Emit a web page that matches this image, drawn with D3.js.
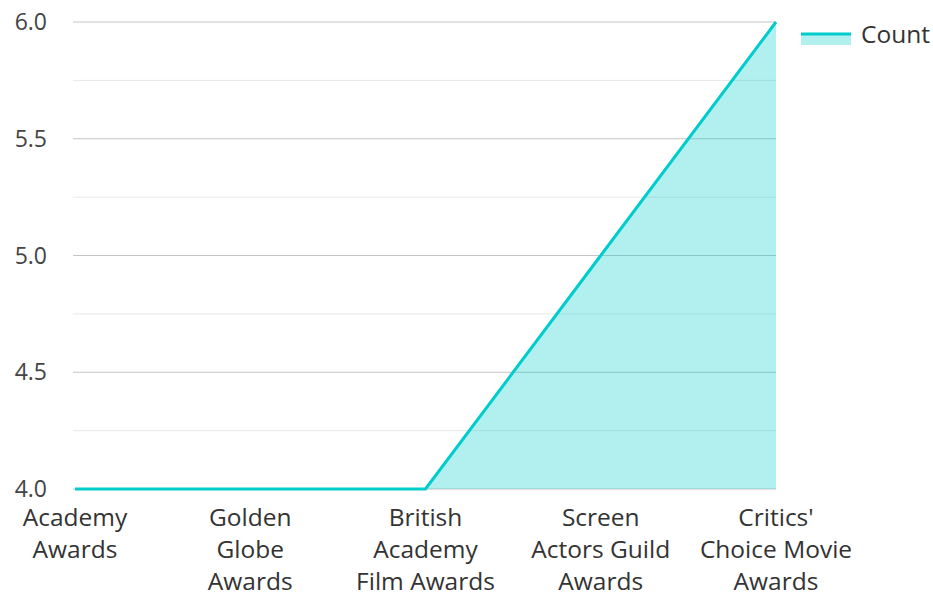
<!DOCTYPE html>
<html>
<head>
<meta charset="utf-8">
<script src="https://cdn.jsdelivr.net/npm/d3@7"></script>
<style>
  body { margin: 0; background: #fff; }
  svg { font-family: "Open Sans", sans-serif; }
</style>
</head>
<body>
<div id="chart"></div>
<script>
const categories = [
    ["Academy", "Awards"],
    ["Golden", "Globe", "Awards"],
    ["British", "Academy", "Film Awards"],
    ["Screen", "Actors Guild", "Awards"],
    ["Critics'", "Choice Movie", "Awards"]
];
const counts = [4, 4, 4, 5, 6];
const yTicks = [4.0, 4.5, 5.0, 5.5, 6.0];
const yGrid = [4.0, 4.25, 4.5, 4.75, 5.0, 5.25, 5.5, 5.75, 6.0];
const seriesName = "Count";

const width = 933, height = 592;
const lineColor = "#00cccc";

const svg = d3.select("#chart").append("svg")
    .attr("width", width)
    .attr("height", height);

const x = d3.scalePoint()
    .domain(d3.range(categories.length))
    .range([75, 776]);

const y = d3.scaleLinear()
    .domain([4, 6])
    .range([489, 22]);

// grid lines
svg.append("g")
    .selectAll("line")
    .data(yGrid)
    .join("line")
    .attr("x1", 73)
    .attr("x2", 776)
    .attr("y1", d => y(d))
    .attr("y2", d => y(d))
    .attr("stroke", d => (d * 2) % 1 === 0 ? "#c4c4c4" : "#e8e8e8")
    .attr("stroke-width", 1);

// y labels
svg.append("g")
    .selectAll("text")
    .data(yTicks)
    .join("text")
    .attr("x", 47)
    .attr("y", d => y(d))
    .attr("dy", "0.35em")
    .attr("text-anchor", "end")
    .attr("fill", "#444")
    .attr("font-size", 23)
    .text(d => d.toFixed(1));

// x labels
const xl = svg.append("g")
    .selectAll("text")
    .data(categories)
    .join("text")
    .attr("text-anchor", "middle")
    .attr("fill", "#333")
    .attr("font-size", 24.5);
xl.each(function (lines, i) {
    d3.select(this).selectAll("tspan")
        .data(lines)
        .join("tspan")
        .attr("x", x(i))
        .attr("y", (d, j) => 526 + j * 32)
        .text(d => d);
});

// area + line
const area = d3.area()
    .x((d, i) => x(i))
    .y0(y(4))
    .y1(d => y(d));
const line = d3.line()
    .x((d, i) => x(i))
    .y(d => y(d));

svg.append("path")
    .datum(counts)
    .attr("d", area)
    .attr("fill", lineColor)
    .attr("fill-opacity", 0.3);

svg.append("path")
    .datum(counts)
    .attr("d", line)
    .attr("fill", "none")
    .attr("stroke", lineColor)
    .attr("stroke-width", 3);

// legend
const legend = svg.append("g").attr("transform", "translate(801,34)");
legend.append("rect")
    .attr("x", 0).attr("y", 0)
    .attr("width", 50).attr("height", 11)
    .attr("fill", lineColor)
    .attr("fill-opacity", 0.3);
legend.append("line")
    .attr("x1", 0).attr("x2", 50)
    .attr("y1", 0).attr("y2", 0)
    .attr("stroke", lineColor)
    .attr("stroke-width", 3);
legend.append("text")
    .attr("x", 60)
    .attr("y", 0)
    .attr("dy", "0.35em")
    .attr("fill", "#333")
    .attr("font-size", 24.5)
    .text(seriesName);
</script>
</body>
</html>
